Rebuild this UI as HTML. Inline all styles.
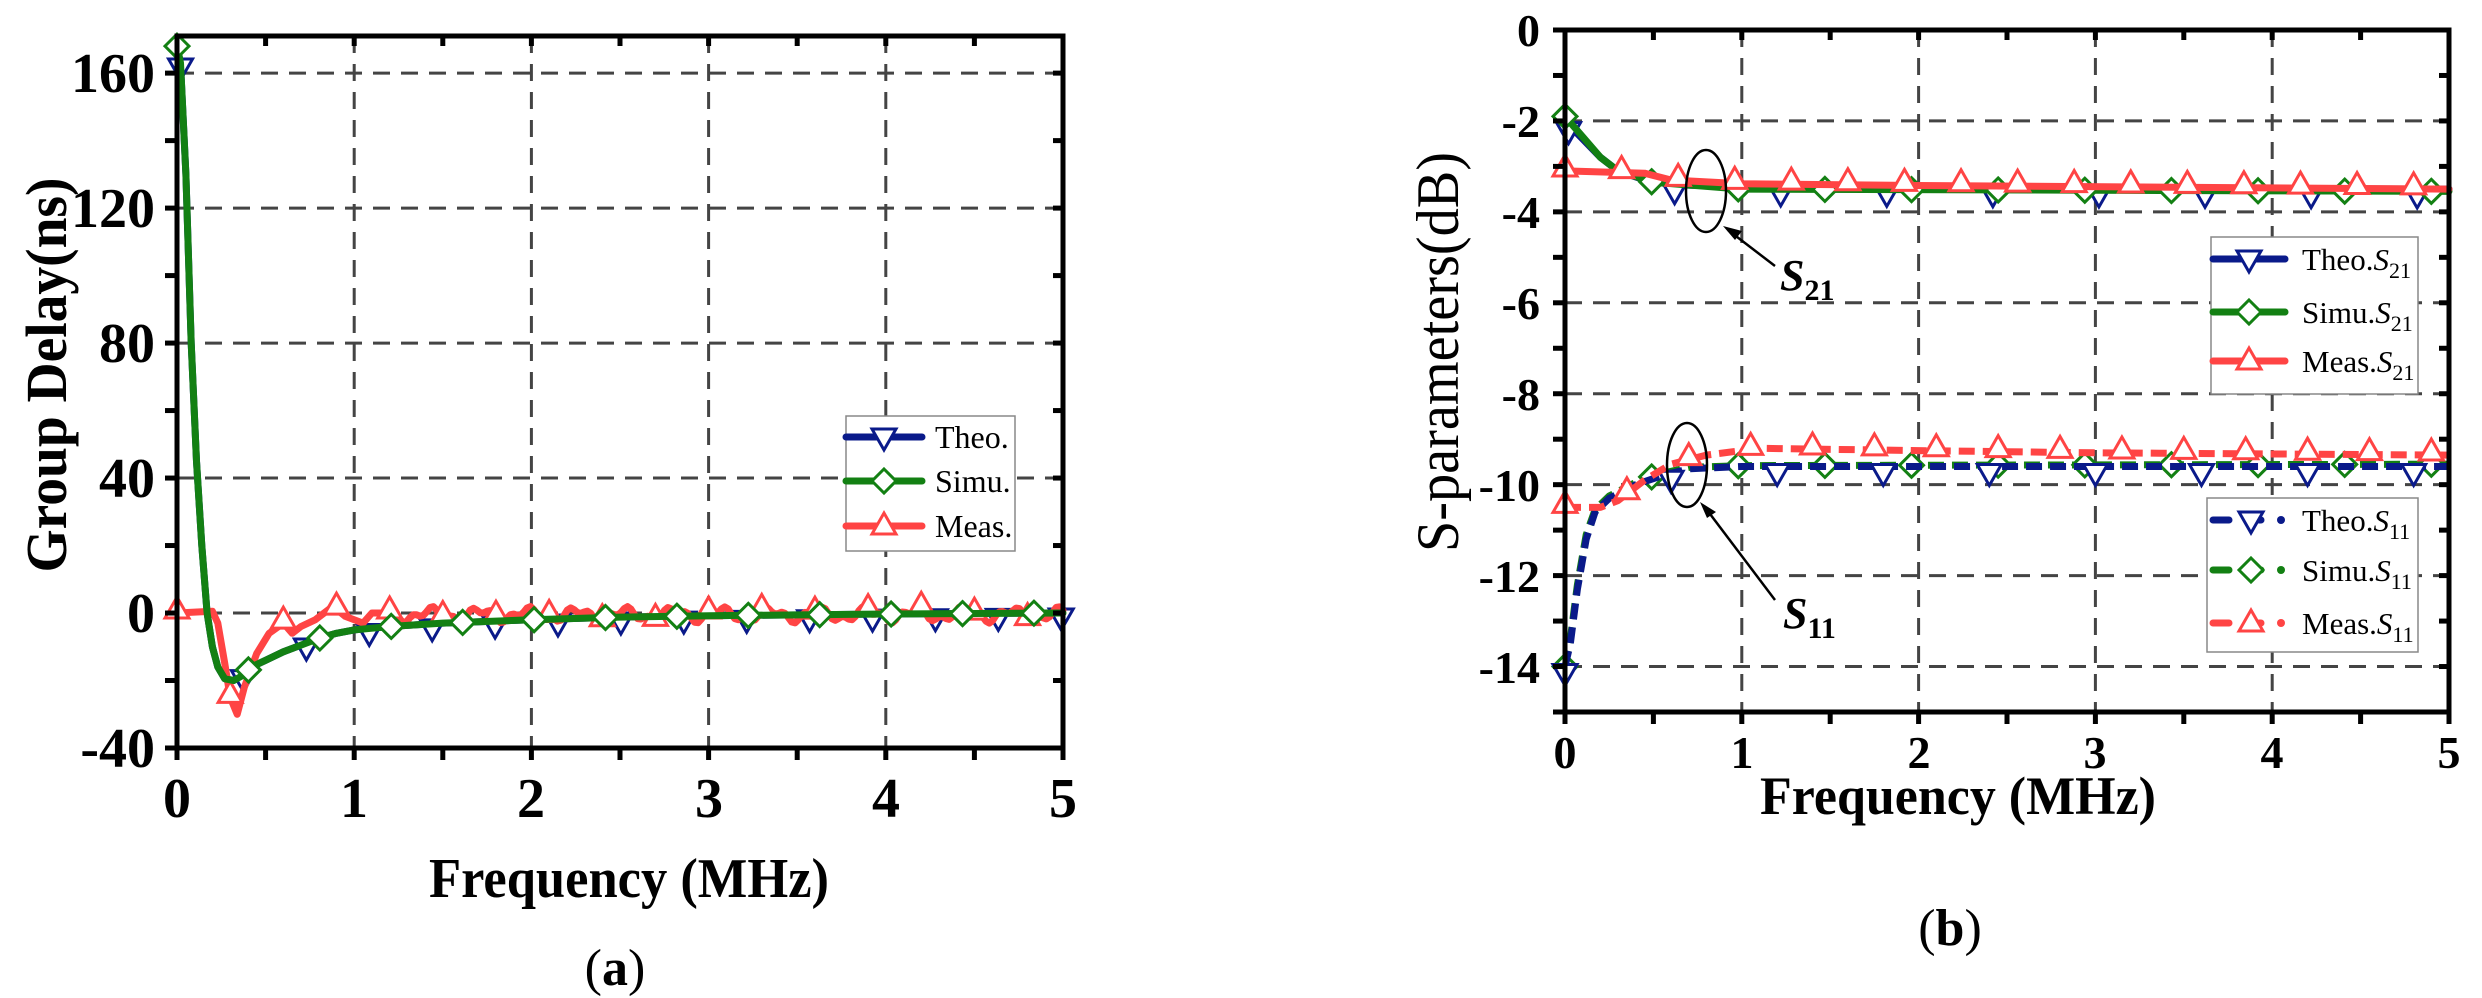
<!DOCTYPE html>
<html><head><meta charset="utf-8"><style>
html,body{margin:0;padding:0;background:#fff;}
svg{display:block;}
text{font-family:"Liberation Serif",serif;fill:#000;}
.tk{font-weight:bold;}
</style></head><body>
<svg id="s" width="2482" height="998" viewBox="0 0 2482 998" xmlns="http://www.w3.org/2000/svg">
<g id="grid"></g>
<g id="data"></g>
<g id="axes"></g>
<g class="tk" font-size="56" text-anchor="end">
<text x="155" y="92">160</text>
<text x="155" y="227">120</text>
<text x="155" y="362">80</text>
<text x="155" y="632">0</text>
<text x="155" y="497">40</text>
<text x="155" y="767">-40</text>
</g>
<g class="tk" font-size="56" text-anchor="middle">
<text x="177" y="817">0</text>
<text x="354" y="817">1</text>
<text x="531" y="817">2</text>
<text x="709" y="817">3</text>
<text x="886" y="817">4</text>
<text x="1063" y="817">5</text>
</g>
<text x="629" y="897" font-size="56" font-weight="bold" text-anchor="middle" textLength="400" lengthAdjust="spacingAndGlyphs">Frequency (MHz)</text>
<text transform="translate(66,375) rotate(-90)" font-size="58" font-weight="bold" text-anchor="middle" textLength="395" lengthAdjust="spacingAndGlyphs">Group Delay(ns)</text>
<text x="615" y="985" font-size="52" text-anchor="middle">(<tspan font-weight="bold">a</tspan>)</text>
<g class="tk" font-size="46" text-anchor="end">
<text x="1540" y="46">0</text>
<text x="1540" y="137">-2</text>
<text x="1540" y="228">-4</text>
<text x="1540" y="319">-6</text>
<text x="1540" y="410">-8</text>
<text x="1540" y="501">-10</text>
<text x="1540" y="592">-12</text>
<text x="1540" y="683">-14</text>
</g>
<g class="tk" font-size="46" text-anchor="middle">
<text x="1565" y="768">0</text>
<text x="1742" y="768">1</text>
<text x="1919" y="768">2</text>
<text x="2095" y="768">3</text>
<text x="2272" y="768">4</text>
<text x="2449" y="768">5</text>
</g>
<text x="1958" y="814" font-size="54" font-weight="bold" text-anchor="middle" textLength="396" lengthAdjust="spacingAndGlyphs">Frequency (MHz)</text>
<text transform="translate(1458,352) rotate(-90)" font-size="60" text-anchor="middle" textLength="400" lengthAdjust="spacingAndGlyphs">S-parameters(dB)</text>
<text x="1950" y="945" font-size="52" text-anchor="middle">(<tspan font-weight="bold">b</tspan>)</text>
<ellipse cx="1706" cy="191" rx="20" ry="41" fill="none" stroke="#000" stroke-width="2.5"/>
<ellipse cx="1687" cy="465" rx="20" ry="42" fill="none" stroke="#000" stroke-width="2.5"/>
<line x1="1775" y1="266" x2="1728" y2="230" stroke="#000" stroke-width="2.5"/>
<polygon points="1723,226 1742,231 1735,240" fill="#000"/>
<line x1="1775" y1="600" x2="1704" y2="506" stroke="#000" stroke-width="2.5"/>
<polygon points="1700,502 1716,512 1707,518" fill="#000"/>
<text x="1780" y="290" font-size="44" font-weight="bold" font-style="italic">S<tspan font-size="30" dy="10" font-style="normal">21</tspan></text>
<text x="1783" y="628" font-size="44" font-weight="bold" font-style="italic">S<tspan font-size="30" dy="10" font-style="normal">11</tspan></text>
<rect x="846" y="416" width="169" height="135" fill="#fff" stroke="#888" stroke-width="1.5"/>
<g font-size="32">
<text x="935" y="448">Theo.</text>
<text x="935" y="492">Simu.</text>
<text x="935" y="537">Meas.</text>
</g>
<rect x="2211" y="237" width="207" height="157" fill="#fff" stroke="#888" stroke-width="1.5"/>
<g font-size="31">
<text x="2302" y="270">Theo.<tspan font-style="italic">S</tspan><tspan font-size="22" dy="8">21</tspan></text>
<text x="2302" y="323">Simu.<tspan font-style="italic">S</tspan><tspan font-size="22" dy="8">21</tspan></text>
<text x="2302" y="372">Meas.<tspan font-style="italic">S</tspan><tspan font-size="22" dy="8">21</tspan></text>
</g>
<rect x="2207" y="498" width="211" height="154" fill="#fff" stroke="#888" stroke-width="1.5"/>
<g font-size="31">
<text x="2302" y="531">Theo.<tspan font-style="italic">S</tspan><tspan font-size="22" dy="8">11</tspan></text>
<text x="2302" y="581">Simu.<tspan font-style="italic">S</tspan><tspan font-size="22" dy="8">11</tspan></text>
<text x="2302" y="634">Meas.<tspan font-style="italic">S</tspan><tspan font-size="22" dy="8">11</tspan></text>
</g>
<g id="leg"></g>
</svg>
<script>
var NS="http://www.w3.org/2000/svg";
function el(p,t,a){var e=document.createElementNS(NS,t);for(var k in a)e.setAttribute(k,a[k]);p.appendChild(e);return e;}
var G=document.getElementById('grid'),D=document.getElementById('data'),A=document.getElementById('axes'),L=document.getElementById('leg');
var BLUE="#0a1a8a",GREEN="#138013",RED="#ff4444";
function interp(d,f){for(var i=1;i<d.length;i++){if(f<=d[i][0]){var a=d[i-1],b=d[i];return a[1]+(b[1]-a[1])*(f-a[0])/(b[0]-a[0]);}}return d[d.length-1][1];}
function marker(p,type,x,y,c){
 var s;
 if(type=='d')s=(x)+','+(y-12)+' '+(x+12)+','+y+' '+x+','+(y+12)+' '+(x-12)+','+y;
 else if(type=='v')s=(x-12)+','+(y-8)+' '+(x+12)+','+(y-8)+' '+x+','+(y+13);
 else s=(x-12)+','+(y+8)+' '+(x+12)+','+(y+8)+' '+x+','+(y-13);
 el(p,'polygon',{points:s,fill:'#fff',stroke:c,'stroke-width':3});
}
function plot(P){
 function sx(f){return P.x0+f*(P.x1-P.x0)/5;}
 function sy(v){return P.y0-(v-P.vmin)*(P.y0-P.y1)/(P.vmax-P.vmin);}
 P.sx=sx;P.sy=sy;
 for(var f=1;f<5;f++)el(G,'line',{x1:sx(f),x2:sx(f),y1:P.y1,y2:P.y0,stroke:'#444','stroke-width':3,'stroke-dasharray':'17 11'});
 P.hg.forEach(function(v){el(G,'line',{x1:P.x0,x2:P.x1,y1:sy(v),y2:sy(v),stroke:'#444','stroke-width':3,'stroke-dasharray':'17 11'});});
 el(A,'rect',{x:P.x0,y:P.y1,width:P.x1-P.x0,height:P.y0-P.y1,fill:'none',stroke:'#000','stroke-width':5});
 for(var f=0;f<=5.001;f+=0.5){el(A,'line',{x1:sx(f),x2:sx(f),y1:P.y0,y2:P.y0+12,stroke:'#000','stroke-width':5});
  el(A,'line',{x1:sx(f),x2:sx(f),y1:P.y1,y2:P.y1+10,stroke:'#000','stroke-width':5});}
 for(var v=P.vtk0;v<=P.vmax+0.001;v+=P.vstep){el(A,'line',{x1:P.x0-12,x2:P.x0,y1:sy(v),y2:sy(v),stroke:'#000','stroke-width':5});
  el(A,'line',{x1:P.x1-10,x2:P.x1,y1:sy(v),y2:sy(v),stroke:'#000','stroke-width':5});}
}
function series(P,d,c,dash,mtype,mf,moff){
 var pts=[];
 for(var i=0;i<d.length;i++)pts.push(P.sx(d[i][0]).toFixed(1)+','+P.sy(d[i][1]).toFixed(1));
 var a={points:pts.join(' '),fill:'none',stroke:c,'stroke-width':7,'stroke-linejoin':'round','stroke-linecap':'round'};
 if(dash){a['stroke-dasharray']=dash;a['stroke-linecap']='butt';}
 el(D,'polyline',a);
 mf.forEach(function(f){marker(D,mtype,P.sx(f),P.sy(interp(d,f))+(moff||0),c);});
}
function dense(fn,a,b,n){var r=[];for(var i=0;i<=n;i++){var f=a+(b-a)*i/n;r.push([f,fn(f)]);}return r;}
function rng(a,s,b){var r=[];for(var f=a;f<=b+1e-6;f+=s)r.push(f);return r;}

var P1={x0:177,x1:1063,y0:748,y1:36,vmin:-40,vmax:171,hg:[0,40,80,120,160],vtk0:-40,vstep:20};
plot(P1);
var gd=[[0,168],[0.02,163],[0.05,130],[0.08,80],[0.11,45],[0.14,20],[0.17,0],[0.2,-10],[0.23,-16],[0.27,-19.5],[0.32,-20],[0.37,-18.5],[0.42,-16],[0.5,-14],[0.6,-11.5],[0.7,-9.5],[0.8,-7.5],[0.9,-6],[1,-5],[1.2,-4],[1.5,-3],[2,-2],[2.5,-1.2],[3,-0.8],[4,-0.3],[5,0]];
var meas=[[0,0],[0.2,0.5],[0.23,-3],[0.27,-15],[0.3,-25],[0.34,-30],[0.38,-22],[0.45,-12],[0.52,-6],[0.6,-3],[0.65,-6],[0.7,-4],[0.78,-2],[0.88,2],[0.95,-1],[1.05,-3],[1.1,0],[1.2,0]];
meas=meas.concat(dense(function(f){return 1.5*Math.sin(f*23)+1.0*Math.sin(f*57+1)-0.5;},1.22,5,200));
series(P1,gd,BLUE,null,'v',rng(0.02,0.355,5),4);
series(P1,meas,RED,null,'^',rng(0,0.3,5),-3);
series(P1,gd,GREEN,null,'d',rng(0,0.403,5),0);

var P2={x0:1565,x1:2449,y0:712,y1:30,vmin:-15,vmax:0,hg:[-2,-4,-6,-8,-10,-12,-14],vtk0:-15,vstep:1};
plot(P2);
var t21=[[0,-2],[0.1,-2.4],[0.2,-2.8],[0.3,-3.1],[0.45,-3.3],[0.6,-3.4],[1,-3.45],[5,-3.5]];
var s21=[[0,-1.9],[0.1,-2.35],[0.2,-2.8],[0.3,-3.1],[0.5,-3.35],[1,-3.5],[5,-3.55]];
var m21=[[0,-3.1],[0.45,-3.15],[0.6,-3.3],[1,-3.38],[2,-3.42],[5,-3.5]];
var t11=[[0,-14],[0.03,-13.5],[0.07,-12.3],[0.12,-11.2],[0.17,-10.6],[0.25,-10.3],[0.4,-10],[0.55,-9.8],[0.7,-9.65],[1,-9.6],[5,-9.6]];
var s11=[[0,-14],[0.03,-13.4],[0.07,-12.2],[0.12,-11.1],[0.17,-10.55],[0.25,-10.25],[0.4,-9.95],[0.55,-9.75],[0.7,-9.62],[1,-9.58],[5,-9.55]];
var m11=[[0,-10.5],[0.2,-10.5],[0.3,-10.35],[0.45,-9.9],[0.6,-9.55],[0.8,-9.35],[1.1,-9.2],[2,-9.25],[3,-9.3],[5,-9.35]];
series(P2,t21,BLUE,null,'v',rng(0.02,0.6,5),6);
series(P2,s21,GREEN,null,'d',rng(0,0.49,5),0);
series(P2,m21,RED,null,'^',rng(0,0.32,5),-3);
series(P2,s11,GREEN,'16 8','d',rng(0,0.49,5),0);
series(P2,t11,BLUE,'16 8','v',rng(0,0.6,5),6);
series(P2,m11,RED,'16 8','^',rng(0,0.35,5),-3);

function legItem(x1,x2,y,c,m,dashed){
 if(dashed){
  el(L,'line',{x1:x1,x2:x1+16,y1:y,y2:y,stroke:c,'stroke-width':7,'stroke-linecap':'round'});
  el(L,'line',{x1:x1+46,x2:x1+48,y1:y,y2:y,stroke:c,'stroke-width':7,'stroke-linecap':'round'});
  el(L,'circle',{cx:x2+6,cy:y,r:4,fill:c});
  marker(L,m,x1+38,y,c);
 } else {
  el(L,'line',{x1:x1,x2:x2,y1:y,y2:y,stroke:c,'stroke-width':7,'stroke-linecap':'round'});
  marker(L,m,(x1+x2)/2,y,c);
 }
}
legItem(846,922,437,BLUE,'v');legItem(846,922,481,GREEN,'d');legItem(846,922,526,RED,'^');
legItem(2213,2285,259,BLUE,'v');legItem(2213,2285,312,GREEN,'d');legItem(2213,2285,361,RED,'^');
legItem(2213,2275,520,BLUE,'v',1);legItem(2213,2275,570,GREEN,'d',1);legItem(2213,2275,623,RED,'^',1);
</script>
</body></html>
